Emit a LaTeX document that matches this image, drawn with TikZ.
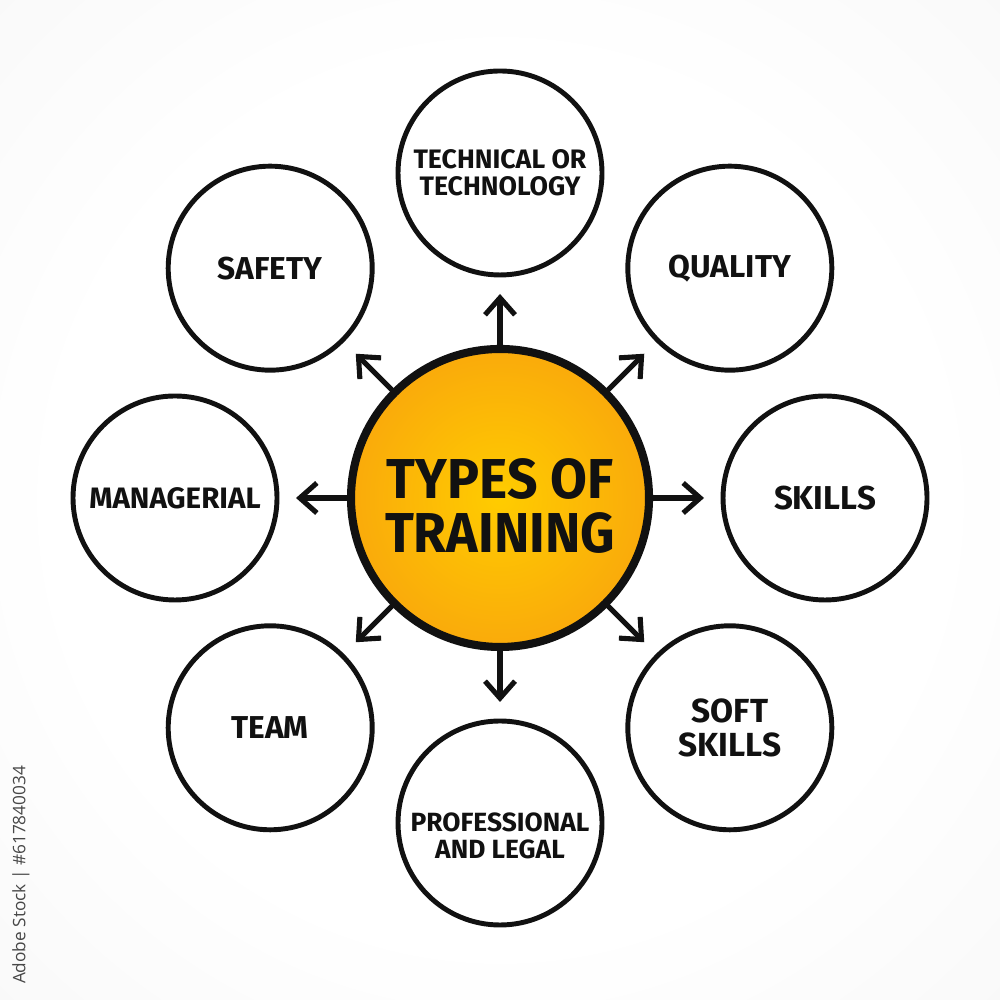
\documentclass[tikz,border=0pt]{standalone}
\usepackage{fontspec}
\setmainfont{Fira Sans}
\newfontfamily\wmfont{Open Sans}
\usetikzlibrary{arrows.meta}
\definecolor{ctrin}{RGB}{255,204,0}
\definecolor{ctrout}{RGB}{245,142,20}
\definecolor{bgout}{RGB}{234,234,234}
\definecolor{ink}{RGB}{17,17,17}
\pgfdeclareradialshading{ctrshade}{\pgfpoint{0bp}{0bp}}{color(0bp)=(ctrin); color(46bp)=(ctrout); color(100bp)=(ctrout)}
\pgfdeclareradialshading{bgshade}{\pgfpoint{0bp}{0bp}}{color(0bp)=(white); color(22bp)=(white); color(71bp)=(bgout)}
\begin{document}
\begin{tikzpicture}[
  outer/.style={circle, draw=ink, line width=1.4pt, fill=white, minimum size=2.04cm,
    inner sep=0pt, outer sep=0pt, align=center, text=ink,
    font=\bfseries\fontsize{9}{9}\selectfont},
  arr/.style={draw=ink, line width=1.45pt, line cap=round,
    -{Straight Barb[length=0.17cm, width=0.3cm]}, shorten >=0.19cm},
  lbl/.style={align=center, text=ink, inner sep=0pt}
]
\path[shading=bgshade] (0,0) rectangle (10,10);
\useasboundingbox (0,0) rectangle (10,10);
\coordinate (O) at (5,5.02);
\node[circle, draw=ink, line width=2.3pt, shading=ctrshade, minimum size=2.98cm,
  inner sep=0pt, outer sep=0pt] (c) at (O) {};
\node[lbl, font=\bfseries\fontsize{16}{15.2}\selectfont, xscale=0.95, transform shape] (ctext) at ([yshift=-0.08cm]O) {TYPES OF\\TRAINING};

\node[outer, font=\bfseries\fontsize{7.6}{7.6}\selectfont] (tech) at ([shift={(90:3.25)}]O) {TECHNICAL OR\\TECHNOLOGY};
\node[outer] (qual) at ([shift={(45:3.25)}]O) {QUALITY};
\node[outer, font=\bfseries\fontsize{9.4}{9.4}\selectfont] (skil) at ([shift={(0:3.25)}]O) {SKILLS};
\node[outer, font=\bfseries\fontsize{9.5}{9.6}\selectfont] (soft) at ([shift={(-45:3.25)}]O) {SOFT\\SKILLS};
\node[outer] (prof) at ([shift={(-90:3.25)}]O) {};
\node[lbl, font=\bfseries\fontsize{7.5}{7.6}\selectfont] (proftext) at ([yshift=-0.13cm]prof.center) {PROFESSIONAL\\AND LEGAL};
\node[outer] (team) at ([shift={(-135:3.25)}]O) {TEAM};
\node[outer, font=\bfseries\fontsize{8.4}{8.4}\selectfont] (mana) at ([shift={(180:3.25)}]O) {MANAGERIAL};
\node[outer] (safe) at ([shift={(135:3.25)}]O) {SAFETY};

\foreach \t in {tech,qual,skil,soft,prof,team,mana,safe}
  \draw[arr] (c) -- (\t);

\node[rotate=90, font=\wmfont\fontsize{4.9}{6}\selectfont, text=black!72, inner sep=0pt] (wm) at (0.21,1.25) {Adobe Stock | \#617840034};
\end{tikzpicture}
\end{document}
